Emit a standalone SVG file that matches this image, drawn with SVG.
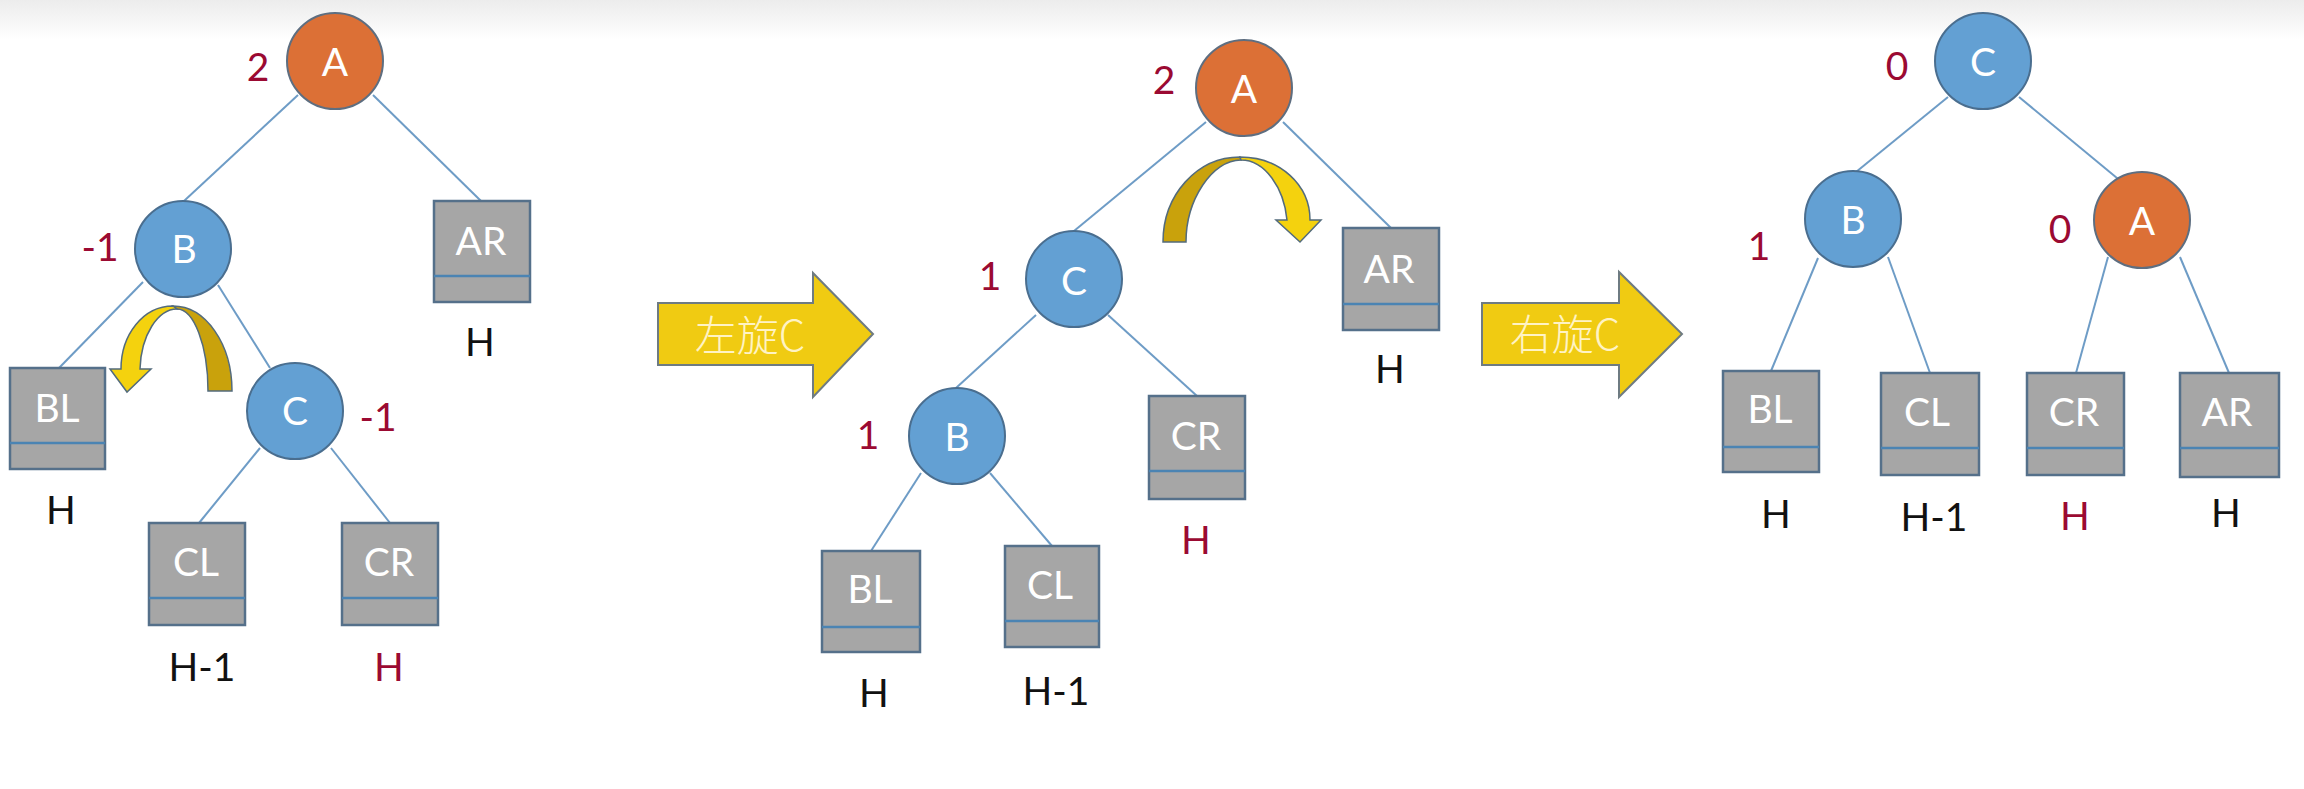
<svg xmlns="http://www.w3.org/2000/svg" width="2304" height="789" viewBox="0 0 2304 789">
<defs>
<linearGradient id="topfade" x1="0" y1="0" x2="0" y2="1">
<stop offset="0" stop-color="#ECECEC"/>
<stop offset="1" stop-color="#FFFFFF"/>
</linearGradient>
</defs>
<style>
.edge{stroke:#6E9CC6;stroke-width:2;fill:none}
.blue{fill:#63A0D3;stroke:#4A6E8F;stroke-width:2}
.orange{fill:#DC7036;stroke:#5E6E80;stroke-width:2}
.box{fill:#A6A6A6;stroke:#55708A;stroke-width:2.5}
.div{stroke:#4B84B3;stroke-width:2.5}
.lbl{font-family:Lato,"Open Sans","Liberation Sans",sans-serif;font-size:39px;fill:#FFFFFF;text-anchor:middle}
.bf{font-family:Lato,"Open Sans","Liberation Sans",sans-serif;font-size:39px;fill:#9B0A32;text-anchor:middle}
.h{font-family:Lato,"Open Sans","Liberation Sans",sans-serif;font-size:39px;fill:#111111;text-anchor:middle}
.hr{font-family:Lato,"Open Sans","Liberation Sans",sans-serif;font-size:39px;fill:#9B0A32;text-anchor:middle}
.big{fill:#F0CB12;stroke:#6E7B82;stroke-width:2}
.bigt{font-family:"Noto Sans CJK SC","Noto Sans",sans-serif;font-size:42px;font-weight:300;fill:#FFF3C4;text-anchor:middle}
.gold{fill:#C9A20C;stroke:#536B7C;stroke-width:1.5}
.yel{fill:#F4D20E;stroke:#536B7C;stroke-width:1.5}
</style>
<rect x="0" y="0" width="2304" height="789" fill="#FFFFFF"/>
<rect x="0" y="0" width="2304" height="40" fill="url(#topfade)"/>

<g id="connectors">
<line class="edge" x1="298" y1="95" x2="184" y2="201"/>
<line class="edge" x1="373" y1="95" x2="481" y2="201"/>
<line class="edge" x1="143" y1="282" x2="59" y2="368"/>
<line class="edge" x1="218" y1="285" x2="270" y2="368"/>
<line class="edge" x1="260" y1="448" x2="199" y2="523"/>
<line class="edge" x1="331" y1="448" x2="390" y2="523"/>
<line class="edge" x1="1206" y1="122" x2="1074" y2="231"/>
<line class="edge" x1="1283" y1="122" x2="1391" y2="228"/>
<line class="edge" x1="1036" y1="315" x2="956" y2="388"/>
<line class="edge" x1="1108" y1="315" x2="1197" y2="396"/>
<line class="edge" x1="921" y1="473" x2="871" y2="551"/>
<line class="edge" x1="990" y1="473" x2="1052" y2="546"/>
<line class="edge" x1="1948" y1="97" x2="1856" y2="172"/>
<line class="edge" x1="2019" y1="97" x2="2123" y2="183"/>
<line class="edge" x1="1818" y1="258" x2="1771" y2="371"/>
<line class="edge" x1="1888" y1="257" x2="1930" y2="373"/>
<line class="edge" x1="2108" y1="257" x2="2076" y2="373"/>
<line class="edge" x1="2180" y1="257" x2="2229" y2="373"/>
</g>

<!-- Panel 1 -->
<g id="p1-A"><circle class="orange" cx="335" cy="61" r="48"/><text class="lbl" x="335" y="76">A</text><text class="bf" x="258" y="81">2</text></g>
<g id="p1-B"><circle class="blue" cx="183" cy="249" r="48"/><text class="lbl" x="184" y="263">B</text><text class="bf" x="100" y="261">-1</text></g>
<g id="p1-C"><circle class="blue" cx="295" cy="411" r="48"/><text class="lbl" x="295" y="425">C</text><text class="bf" x="378" y="431">-1</text></g>
<g id="p1-AR"><rect class="box" x="434" y="201" width="96" height="101"/><line class="div" x1="434" y1="276" x2="530" y2="276"/><text class="lbl" x="481" y="255">AR</text><text class="h" x="480" y="356">H</text></g>
<g id="p1-BL"><rect class="box" x="10" y="368" width="95" height="101"/><line class="div" x1="10" y1="443" x2="105" y2="443"/><text class="lbl" x="57" y="422">BL</text><text class="h" x="61" y="524">H</text></g>
<g id="p1-CL"><rect class="box" x="149" y="523" width="96" height="102"/><line class="div" x1="149" y1="598" x2="245" y2="598"/><text class="lbl" x="196" y="576">CL</text><text class="h" x="202" y="681">H-1</text></g>
<g id="p1-CR"><rect class="box" x="342" y="523" width="96" height="102"/><line class="div" x1="342" y1="598" x2="438" y2="598"/><text class="lbl" x="389" y="576">CR</text><text class="hr" x="389" y="681">H</text></g>
<g id="p1-rotate">
<path class="gold" d="M173,306 C205.6,306 232,344 232,391 L208,391 C208,345 193.7,309 177,309 Z"/>
<path class="yel" d="M173,306 C143,306 121,335 121,369 L110,369 L127,392 L151,369 L140,369 C141,335 158,309 177,309 Z"/>
</g>

<!-- Arrow 1 -->
<g id="arrow-left-rotate"><polygon class="big" points="658,303 813,303 813,273 873,334 813,397 813,365 658,365"/><text class="bigt" x="750" y="351">左旋C</text></g>

<!-- Panel 2 -->
<g id="p2-A"><circle class="orange" cx="1244" cy="88" r="48"/><text class="lbl" x="1244" y="103">A</text><text class="bf" x="1164" y="94">2</text></g>
<g id="p2-C"><circle class="blue" cx="1074" cy="279" r="48"/><text class="lbl" x="1074" y="295">C</text><text class="bf" x="990" y="290">1</text></g>
<g id="p2-B"><circle class="blue" cx="957" cy="436" r="48"/><text class="lbl" x="957" y="451">B</text><text class="bf" x="868" y="449">1</text></g>
<g id="p2-AR"><rect class="box" x="1343" y="228" width="96" height="102"/><line class="div" x1="1343" y1="304" x2="1439" y2="304"/><text class="lbl" x="1389" y="283">AR</text><text class="h" x="1390" y="383">H</text></g>
<g id="p2-CR"><rect class="box" x="1149" y="396" width="96" height="103"/><line class="div" x1="1149" y1="471" x2="1245" y2="471"/><text class="lbl" x="1196" y="450">CR</text><text class="hr" x="1196" y="554">H</text></g>
<g id="p2-BL"><rect class="box" x="822" y="551" width="98" height="101"/><line class="div" x1="822" y1="627" x2="920" y2="627"/><text class="lbl" x="870" y="603">BL</text><text class="h" x="874" y="707">H</text></g>
<g id="p2-CL"><rect class="box" x="1005" y="546" width="94" height="101"/><line class="div" x1="1005" y1="621" x2="1099" y2="621"/><text class="lbl" x="1050" y="599">CL</text><text class="h" x="1056" y="705">H-1</text></g>
<g id="p2-rotate">
<path class="gold" d="M1240,157 C1197,157 1163,195 1163,242 L1186,242 C1186,200 1212,160 1241,160 Z"/>
<path class="yel" d="M1240,157 C1280,157 1310,185 1310,220 L1321,220 L1300,242 L1276,220 L1287,220 C1284,188 1265,160 1241,160 Z"/>
</g>

<!-- Arrow 2 -->
<g id="arrow-right-rotate"><polygon class="big" points="1482,303 1619,303 1619,272 1682,334 1619,397 1619,365 1482,365"/><text class="bigt" x="1565" y="350">右旋C</text></g>

<!-- Panel 3 -->
<g id="p3-C"><circle class="blue" cx="1983" cy="61" r="48"/><text class="lbl" x="1983" y="76">C</text><text class="bf" x="1897" y="80">0</text></g>
<g id="p3-B"><circle class="blue" cx="1853" cy="219" r="48"/><text class="lbl" x="1853" y="234">B</text><text class="bf" x="1759" y="260">1</text></g>
<g id="p3-A"><circle class="orange" cx="2142" cy="220" r="48"/><text class="lbl" x="2142" y="235">A</text><text class="bf" x="2060" y="243">0</text></g>
<g id="p3-BL"><rect class="box" x="1723" y="371" width="96" height="101"/><line class="div" x1="1723" y1="447" x2="1819" y2="447"/><text class="lbl" x="1770" y="423">BL</text><text class="h" x="1776" y="528">H</text></g>
<g id="p3-CL"><rect class="box" x="1881" y="373" width="98" height="102"/><line class="div" x1="1881" y1="448" x2="1979" y2="448"/><text class="lbl" x="1927" y="426">CL</text><text class="h" x="1934" y="531">H-1</text></g>
<g id="p3-CR"><rect class="box" x="2027" y="373" width="97" height="102"/><line class="div" x1="2027" y1="448" x2="2124" y2="448"/><text class="lbl" x="2074" y="426">CR</text><text class="hr" x="2075" y="530">H</text></g>
<g id="p3-AR"><rect class="box" x="2180" y="373" width="99" height="104"/><line class="div" x1="2180" y1="448" x2="2279" y2="448"/><text class="lbl" x="2227" y="426">AR</text><text class="h" x="2226" y="527">H</text></g>
</svg>
